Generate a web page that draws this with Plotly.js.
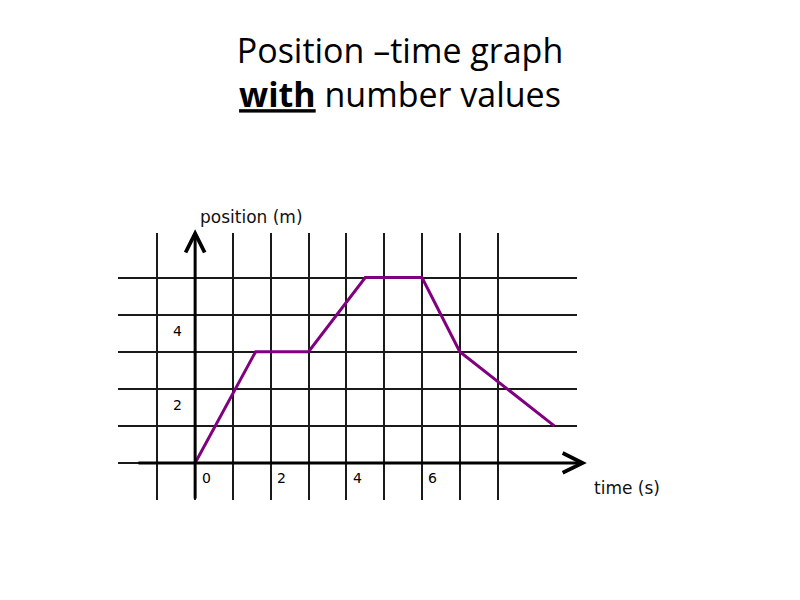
<!DOCTYPE html>
<html>
<head>
<meta charset="utf-8">
<script src="https://cdn.plot.ly/plotly-3.0.1.min.js"></script>
<style>html,body{margin:0;padding:0;background:#fff;}#chart{width:800px;height:600px;}</style>
</head>
<body>
<div id="chart"></div>
<script>
// Data
var timeValues = [0, 1.6, 3, 4.5, 6, 7, 9.5];
var positionValues = [0, 3, 3, 5, 5, 3, 1];
var gridTimes = [-1, 0, 1, 2, 3, 4, 5, 6, 7, 8];
var gridPositions = [0, 1, 2, 3, 4, 5];
var timeTickLabels = [0, 2, 4, 6];
var positionTickLabels = [2, 4];
var titleLine1 = 'Position \u2013time graph';
var titleLine2Bold = 'with';
var titleLine2Rest = ' number values';
var xLabel = 'time (s)';
var yLabel = 'position (m)';

var tickFont = {family: 'DejaVu Sans, sans-serif', size: 14, color: '#000'};
var labelFont = {family: 'DejaVu Sans, sans-serif', size: 17, color: '#111'};

var annotations = [];
// axis arrows
annotations.push({x: 0, y: 6.3, ax: 0, ay: -1.0, xref: 'x', yref: 'y', axref: 'x', ayref: 'y',
  text: '', showarrow: true, arrowhead: 5, arrowsize: 1.25, arrowwidth: 3, arrowcolor: '#000'});
annotations.push({x: 10.36, y: 0, ax: -1.54, ay: 0, xref: 'x', yref: 'y', axref: 'x', ayref: 'y',
  text: '', showarrow: true, arrowhead: 5, arrowsize: 1.3, arrowwidth: 3, arrowcolor: '#000'});
// tick labels
timeTickLabels.forEach(function (v) {
  annotations.push({x: v, y: 0, xref: 'x', yref: 'y', text: String(v), showarrow: false,
    xshift: 11, yshift: -15, font: tickFont});
});
positionTickLabels.forEach(function (v) {
  annotations.push({x: 0, y: v, xref: 'x', yref: 'y', text: String(v), showarrow: false,
    xshift: -18, yshift: -16, font: tickFont});
});
// axis labels (paper coordinates, outside the grid box)
annotations.push({x: 0.1744, y: 1.0593, xref: 'paper', yref: 'paper', xanchor: 'left', yanchor: 'middle',
  text: yLabel, showarrow: false, font: labelFont});
annotations.push({x: 1.0331, y: 0.0458, xref: 'paper', yref: 'paper', xanchor: 'left', yanchor: 'middle',
  text: xLabel, showarrow: false, font: labelFont});

var trace = {
  x: timeValues, y: positionValues, type: 'scatter', mode: 'lines',
  line: {color: '#800080', width: 3}, hoverinfo: 'skip'
};

var layout = {
  width: 800, height: 600,
  margin: {l: 118, r: 223.2, t: 233.3, b: 100.3},
  paper_bgcolor: '#fff', plot_bgcolor: '#fff',
  showlegend: false,
  title: {
    text: titleLine1 + '<br><b><u>' + titleLine2Bold + '</u></b>' + titleLine2Rest,
    xref: 'container', x: 0.5, xanchor: 'center',
    yref: 'container', y: 0.895, yanchor: 'top',
    font: {family: 'Open Sans, sans-serif', size: 34, color: '#000'}
  },
  xaxis: {
    range: [-2.04, 10.1], tickvals: gridTimes, showticklabels: false, ticks: '',
    showgrid: true, gridcolor: '#1a1a1a', gridwidth: 2, zeroline: false, showline: false,
    fixedrange: true
  },
  yaxis: {
    range: [-1.0, 6.2], tickvals: gridPositions, showticklabels: false, ticks: '',
    showgrid: true, gridcolor: '#1a1a1a', gridwidth: 2, zeroline: false, showline: false,
    fixedrange: true
  },
  annotations: annotations
};

Plotly.newPlot('chart', [trace], layout, {displayModeBar: false, staticPlot: true});
</script>
</body>
</html>
